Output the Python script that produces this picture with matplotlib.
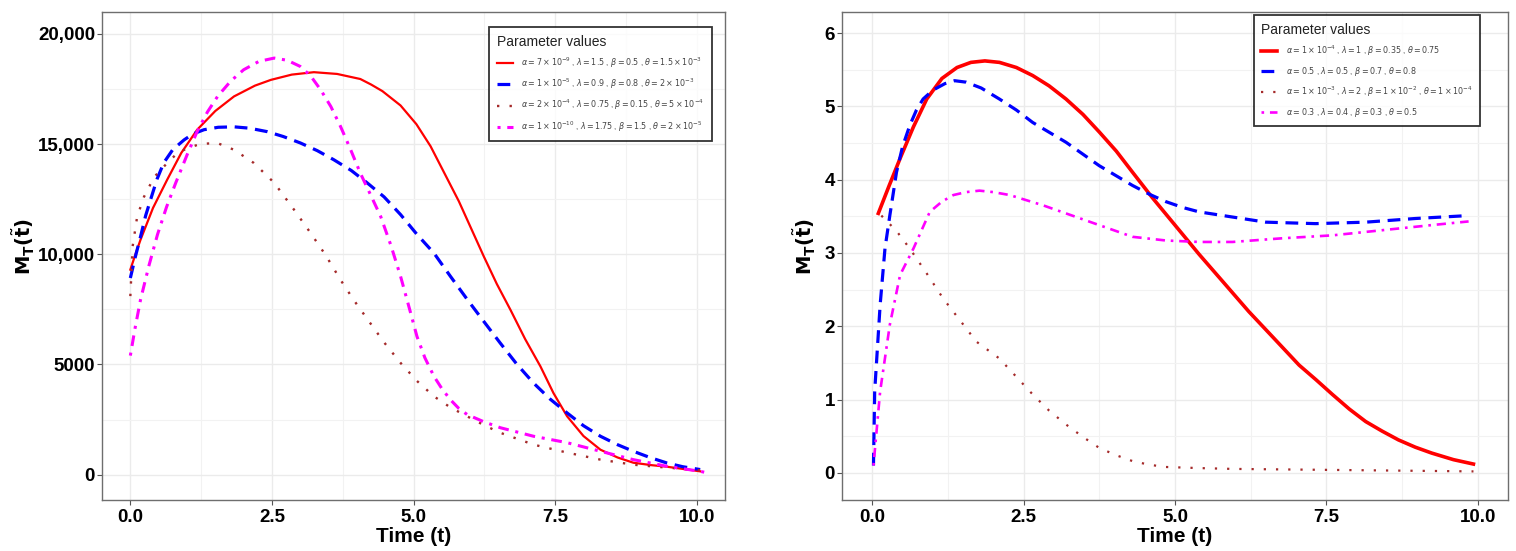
import matplotlib
matplotlib.use("Agg")
import matplotlib.pyplot as plt

plt.rcParams["font.family"] = ["Liberation Sans", "DejaVu Sans"]

# ---- left panel data ----
t_red_l = [0, 0.09, 0.18, 0.4, 0.65, 0.9, 1.18, 1.5, 1.83, 2.2, 2.48, 2.85, 3.24, 3.65, 4.06, 4.25, 4.45,
           4.77, 5.05, 5.3, 5.55, 5.8, 6.02, 6.24, 6.47, 6.71, 6.97, 7.24, 7.47, 7.71, 8.0, 8.3, 8.6, 8.88,
           9.2, 9.47, 9.75, 10.06]
v_red_l = [9300, 10000, 10660, 12100, 13380, 14600, 15650, 16500, 17160, 17650, 17910, 18150, 18260, 18180,
           17950, 17700, 17400, 16750, 15900, 14900, 13650, 12400, 11150, 9900, 8650, 7480, 6150, 4910, 3700,
           2650, 1750, 1130, 780, 540, 430, 360, 260, 150]

t_blue_l = [0, 0.09, 0.18, 0.27, 0.36, 0.47, 0.59, 0.75, 0.95, 1.1, 1.3, 1.55, 1.83, 2.1, 2.42, 2.7, 3.0,
            3.3, 3.59, 3.9, 4.18, 4.48, 4.77, 5.06, 5.36, 5.65, 5.95, 6.24, 6.53, 6.82, 7.12, 7.41, 7.71,
            8.0, 8.3, 8.6, 8.88, 9.17, 9.47, 9.75, 10.06]
v_blue_l = [8920, 9900, 10800, 11750, 12500, 13400, 14150, 14750, 15190, 15450, 15650, 15760, 15780, 15720,
            15560, 15340, 15050, 14700, 14290, 13800, 13240, 12600, 11800, 10900, 10050, 9000, 7940, 6950,
            5970, 5020, 4150, 3430, 2800, 2220, 1740, 1360, 1060, 780, 530, 360, 230]

t_brown_l = [0, 0.04, 0.12, 0.24, 0.42, 0.6, 0.83, 1.0, 1.24, 1.54, 1.83, 2.18, 2.54, 2.89, 3.18, 3.45,
             3.71, 3.95, 4.2, 4.48, 4.77, 5.06, 5.36, 5.65, 5.95, 6.24, 6.53, 7.12, 7.71, 8.3, 8.88, 9.47, 10.06]
v_brown_l = [8100, 10350, 11700, 12600, 13500, 14000, 14590, 14800, 15010, 15040, 14740, 14140, 13240,
             12020, 10970, 9950, 8840, 7900, 7000, 6000, 5070, 4250, 3550, 3050, 2640, 2250, 1900, 1360,
             1000, 680, 450, 320, 200]

t_mag_l = [0, 0.08, 0.18, 0.33, 0.48, 0.64, 0.8, 1.0, 1.18, 1.36, 1.54, 1.77, 2.0, 2.27, 2.54, 2.77, 3.0,
           3.18, 3.36, 3.54, 3.71, 3.88, 4.06, 4.24, 4.42, 4.6, 4.77, 4.92, 5.06, 5.2, 5.36, 5.5, 5.65, 5.8,
           5.95, 6.24, 6.53, 7.12, 7.71, 8.3, 8.88, 9.47, 10.06, 10.24]
v_mag_l = [5400, 6600, 7940, 9500, 10900, 12150, 13230, 14500, 15570, 16450, 17160, 17850, 18370, 18750,
           18900, 18800, 18520, 18100, 17460, 16700, 15800, 14800, 13680, 12700, 11710, 10400, 9000, 7600,
           6270, 5300, 4460, 3900, 3400, 3000, 2720, 2400, 2130, 1740, 1450, 1060, 680, 380, 150, 50]

# ---- right panel data ----
t_red_r = [0.1, 0.28, 0.46, 0.68, 0.9, 1.15, 1.4, 1.63, 1.86, 2.1, 2.38, 2.65, 2.92, 3.2, 3.48, 3.75, 4.03,
           4.3, 4.63, 4.96, 5.18, 5.4, 5.8, 6.22, 6.63, 7.05, 7.33, 7.6, 7.88, 8.15, 8.42, 8.69, 8.97, 9.24,
           9.6, 9.93]
v_red_r = [3.54, 3.92, 4.29, 4.72, 5.1, 5.38, 5.53, 5.6, 5.62, 5.6, 5.53, 5.42, 5.28, 5.1, 4.89, 4.65, 4.39,
           4.1, 3.75, 3.42, 3.2, 2.98, 2.6, 2.2, 1.84, 1.47, 1.27, 1.07, 0.87, 0.70, 0.57, 0.45, 0.35, 0.27,
           0.18, 0.12]

t_blue_r = [0.02, 0.04, 0.13, 0.21, 0.29, 0.4, 0.5, 0.62, 0.73, 0.84, 1.0, 1.2, 1.36, 1.55, 1.8, 2.1, 2.38,
            2.65, 3.2, 3.75, 4.3, 4.58, 4.85, 5.13, 5.4, 5.95, 6.5, 7.32, 8.15, 8.97, 9.85]
v_blue_r = [0.1, 1.11, 2.29, 3.06, 3.51, 4.1, 4.45, 4.74, 4.95, 5.1, 5.22, 5.31, 5.35, 5.33, 5.25, 5.1, 4.95,
            4.78, 4.51, 4.19, 3.92, 3.8, 3.70, 3.62, 3.56, 3.49, 3.42, 3.40, 3.42, 3.47, 3.51]

t_brown_r = [0.15, 0.4, 0.62, 0.9, 1.17, 1.45, 1.72, 2.1, 2.38, 2.65, 2.92, 3.2, 3.48, 3.75, 4.03, 4.3,
             4.58, 4.85, 5.4, 5.95, 7.6, 9.93]
v_brown_r = [3.51, 3.3, 3.06, 2.72, 2.38, 2.08, 1.79, 1.56, 1.31, 1.07, 0.85, 0.66, 0.49, 0.34, 0.24, 0.16,
             0.11, 0.08, 0.065, 0.054, 0.04, 0.02]

t_mag_r = [0.02, 0.13, 0.29, 0.46, 0.68, 0.95, 1.15, 1.34, 1.55, 1.77, 2.0, 2.27, 2.82, 3.37, 3.92, 4.3,
           4.85, 5.4, 5.95, 6.77, 7.6, 8.42, 9.24, 9.85]
v_mag_r = [0.1, 1.11, 2.02, 2.7, 3.06, 3.56, 3.7, 3.79, 3.83, 3.85, 3.83, 3.79, 3.65, 3.49, 3.33, 3.22,
           3.17, 3.15, 3.15, 3.2, 3.24, 3.31, 3.38, 3.43]

labels_l = [
    r"$\alpha=7\times10^{-9}$ , $\lambda=1.5$ , $\beta=0.5$ , $\theta=1.5\times10^{-3}$",
    r"$\alpha=1\times10^{-5}$ , $\lambda=0.9$ , $\beta=0.8$ , $\theta=2\times10^{-3}$",
    r"$\alpha=2\times10^{-4}$ , $\lambda=0.75$ , $\beta=0.15$ , $\theta=5\times10^{-4}$",
    r"$\alpha=1\times10^{-10}$ , $\lambda=1.75$ , $\beta=1.5$ , $\theta=2\times10^{-5}$",
]
labels_r = [
    r"$\alpha=1\times10^{-4}$ , $\lambda=1$ , $\beta=0.35$ , $\theta=0.75$",
    r"$\alpha=0.5$ , $\lambda=0.5$ , $\beta=0.7$ , $\theta=0.8$",
    r"$\alpha=1\times10^{-3}$ , $\lambda=2$ , $\beta=1\times10^{-2}$ , $\theta=1\times10^{-4}$",
    r"$\alpha=0.3$ , $\lambda=0.4$ , $\beta=0.3$ , $\theta=0.5$",
]

xticks = [0, 2.5, 5, 7.5, 10]
xtick_labels = ["0.0", "2.5", "5.0", "7.5", "10.0"]
yticks_l = [0, 5000, 10000, 15000, 20000]
ytick_labels_l = ["0", "5000", "10,000", "15,000", "20,000"]
yticks_r = [0, 1, 2, 3, 4, 5, 6]

fig = plt.figure(figsize=(15.16, 5.51), dpi=100)
ax1 = fig.add_axes([0.0673, 0.0926, 0.411, 0.886])
ax2 = fig.add_axes([0.5554, 0.0926, 0.4393, 0.886])


def style(ax, yticks, ylabels, ymin, ymax, yminor, label_x):
    ax.set_xlim(-0.5, 10.5)
    ax.set_ylim(ymin, ymax)
    ax.set_xticks(xticks)
    ax.set_xticklabels(xtick_labels)
    ax.set_yticks(yticks)
    ax.set_yticklabels(ylabels)
    ax.set_xticks([1.25, 3.75, 6.25, 8.75], minor=True)
    ax.set_yticks(yminor, minor=True)
    ax.grid(which="major", color="#EBEBEB", lw=1.0)
    ax.grid(which="minor", color="#F2F2F2", lw=0.8)
    ax.set_axisbelow(True)
    ax.tick_params(which="major", length=3.5, color="#555555", width=0.8,
                   labelsize=13.5, pad=1.5)
    ax.tick_params(axis="x", which="major", pad=3)
    ax.tick_params(which="minor", length=0)
    for lab in ax.get_xticklabels() + ax.get_yticklabels():
        lab.set_fontweight("bold")
        lab.set_color("black")
    for s in ax.spines.values():
        s.set_color("#6E6E6E")
        s.set_linewidth(1.0)
    ax.set_xlabel("Time (t)", fontsize=15, fontweight="bold", labelpad=1)
    ax.set_ylabel(r"$\mathbf{M_T(\tilde{t})}$", fontsize=14)
    ax.yaxis.set_label_coords(label_x, 0.52)


# left panel
ax1.plot(t_red_l, v_red_l, color="red", lw=1.6, label=labels_l[0])
ax1.plot(t_blue_l, v_blue_l, color="blue", lw=2.3, dashes=(4, 2.4), label=labels_l[1])
ax1.plot(t_brown_l, v_brown_l, color="#A52A2A", lw=1.7, dashes=(1, 4.3), label=labels_l[2])
ax1.plot(t_mag_l, v_mag_l, color="magenta", lw=2.2, dashes=(1, 2.2, 3.5, 2.2), label=labels_l[3])
style(ax1, yticks_l, ytick_labels_l, -1150, 21000, [2500, 7500, 12500, 17500], -0.104)

# right panel
ax2.plot(t_red_r, v_red_r, color="red", lw=2.6, label=labels_r[0])
ax2.plot(t_blue_r, v_blue_r, color="blue", lw=2.3, dashes=(4, 2.4), label=labels_r[1])
ax2.plot(t_brown_r, v_brown_r, color="#A52A2A", lw=1.6, dashes=(1, 4.5), label=labels_r[2])
ax2.plot(t_mag_r, v_mag_r, color="magenta", lw=1.9, dashes=(1, 2.2, 3.5, 2.2), label=labels_r[3])
style(ax2, yticks_r, [str(v) for v in yticks_r], -0.37, 6.29,
      [0.5, 1.5, 2.5, 3.5, 4.5, 5.5], -0.036)

for ax, anchor in ((ax1, (0.4697, 0.951)), (ax2, (0.9763, 0.973))):
    leg = ax.legend(title="Parameter values", loc="upper right",
                    bbox_to_anchor=anchor, bbox_transform=fig.transFigure,
                    fontsize=5.8, title_fontsize=10, frameon=True,
                    fancybox=False, edgecolor="black", handlelength=2.0,
                    borderaxespad=0, borderpad=0.95, labelspacing=0.85,
                    handletextpad=1.0)
    leg.get_frame().set_linewidth(1.3)
    leg._legend_box.align = "left"
    for txt in leg.get_texts():
        txt.set_color("#444444")
    leg.get_title().set_color("#222222")

fig.savefig("out.png", dpi=100)
